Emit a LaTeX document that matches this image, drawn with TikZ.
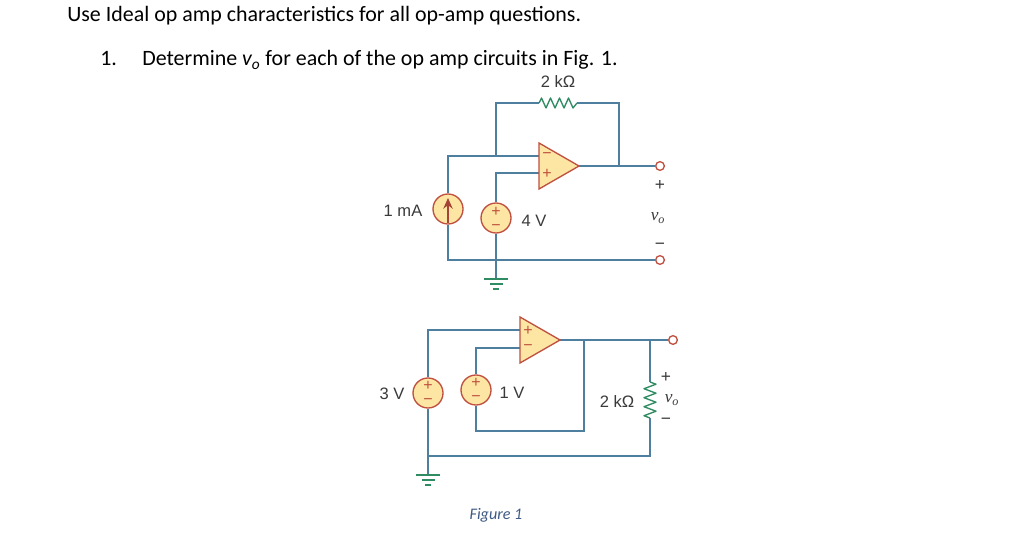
\documentclass[tikz,border=0pt]{standalone}
\usepackage{fontspec}
\setmainfont{Carlito}
\newfontfamily\labelfont{Liberation Sans}
\newfontfamily\symfont{Liberation Serif}
\usetikzlibrary{arrows.meta}
\definecolor{wirecol}{HTML}{4F7F9F}
\definecolor{redcol}{HTML}{C0503F}
\definecolor{fillcol}{HTML}{FDE6A4}
\definecolor{rescol}{HTML}{2E8B62}
\definecolor{txtcol}{HTML}{3A3A3A}
\definecolor{figcol}{HTML}{3F5A85}
\tikzset{
  x=0.75pt,y=-0.75pt,
  wire/.style={draw=wirecol,line width=1.2pt},
  res/.style={draw=rescol,line width=1pt,line join=round},
  gnd/.style={draw=rescol,line width=1pt},
  opamp/.style={draw=redcol,fill=fillcol,line width=1pt,line join=miter},
  src/.style={circle,draw=redcol,fill=fillcol,line width=1pt,minimum size=22.5pt,inner sep=0pt},
  term/.style={circle,draw=redcol,fill=white,line width=1pt,minimum size=6.5pt,inner sep=0pt},
  lab/.style={font=\labelfont\fontsize{12.4}{13}\selectfont,text=txtcol,inner sep=0pt},
  vlab/.style={font=\symfont\itshape\fontsize{13}{13}\selectfont,text=txtcol,inner sep=0pt},
  signmark/.style={font=\labelfont\fontsize{12}{13}\selectfont,text=redcol,inner sep=0pt},
  pol/.style={font=\labelfont\fontsize{13}{13}\selectfont,text=txtcol,inner sep=0pt},
  body/.style={font=\fontsize{16.45}{18}\selectfont,text=black,inner sep=0pt,anchor=base west},
}
\begin{document}
\begin{tikzpicture}
\useasboundingbox (0,0) rectangle (1024,556);
\fill[white] (0,0) rectangle (1024,556);

\node[body] (t1) at (67,22) {Use Ideal op amp characteristics for all op-amp questions.};
\node[body] (t2) at (100,66) {1.};
\node[body] (t3) at (142,66) {Determine \textit{v\textsubscript{o}} for each of the op amp circuits in Fig. 1.};

% --- top circuit
\coordinate (A1) at (539,143);
\coordinate (A2) at (539,189);
\coordinate (A3) at (579,166);
\coordinate (Ain) at (539,156);
\coordinate (Aip) at (539,173);
\coordinate (n1) at (448,156);
\coordinate (n2) at (496,156);
\coordinate (n3) at (496,103);
\coordinate (n4) at (619,103);
\coordinate (n5) at (619,166);
\coordinate (n6) at (496,173);
\coordinate (n7) at (448,260);
\coordinate (n8) at (496,260);
\coordinate (Rta) at (539,103);
\coordinate (Rtb) at (577,103);
\coordinate (Ga) at (496,279);
\node[src] (cs) at (448,209) {};
\node[src] (v4) at (496,218) {};
\node[term] (To1) at (660,166) {};
\node[term] (To2) at (660,260) {};

\draw[wire] (cs.north) -- (n1) -- (Ain);
\draw[wire] (cs.south) -- (n7) -- (To2);
\draw[wire] (n2) -- (n3) -- (Rta);
\draw[wire] (Rtb) -- (n4) -- (n5);
\draw[wire] (A3) -- (To1);
\draw[wire] (v4.north) -- (n6) -- (Aip);
\draw[wire] (v4.south) -- (Ga);
\draw[res] (Rta) -- ++(2.5,-5) -- ++(4.5,10) -- ++(4.5,-10) -- ++(4.5,10) -- ++(4.5,-10) -- ++(4.5,10) -- ++(4.5,-10) -- ++(4.5,10) -- (Rtb);
\draw[opamp] (A1) -- (A3) -- (A2) -- cycle;
\draw[gnd] (484,279) -- (508,279) (490,284) -- (503,284) (493,289) -- (499,289);
\draw[-{Stealth[length=8pt,width=7pt]},draw=redcol!85!black,fill=redcol!85!black,line width=1.6pt] (cs.center)++(0,14) -- ++(0,-25);

\node[signmark] (Am) at (547,156) {−};
\node[signmark] (Ap) at (547,174) {+};
\node[signmark] (v4p) at (496,211.5) {+};
\node[signmark] (v4m) at (496,227.5) {−};
\node[lab] (l1) at (558,82) {2 kΩ};
\node[lab] (l2) at (403,211) {1 mA};
\node[lab] (l3) at (534,221) {4 V};
\node[pol] (p1) at (660,185) {+};
\node[vlab] (vo1) at (658,218) {v\textsubscript{o}};
\node[pol] (m1) at (660,246) {−};

% --- bottom circuit
\coordinate (B1) at (520,317);
\coordinate (B2) at (520,363);
\coordinate (B3) at (560,340);
\coordinate (Bip) at (520,330);
\coordinate (Bin) at (520,348);
\coordinate (q1) at (428,330);
\coordinate (q2) at (476,348);
\coordinate (q3) at (476,431);
\coordinate (q4) at (584,431);
\coordinate (q5) at (584,340);
\coordinate (q6) at (650,340);
\coordinate (q7) at (650,456);
\coordinate (q8) at (428,456);
\coordinate (Rba) at (650,382);
\coordinate (Rbb) at (650,418);
\coordinate (Gb) at (428,475);
\node[src] (v3) at (428,393) {};
\node[src] (v1) at (476,390) {};
\node[term] (To3) at (673,340) {};

\draw[wire] (v3.north) -- (q1) -- (Bip);
\draw[wire] (v1.north) -- (q2) -- (Bin);
\draw[wire] (v1.south) -- (q3) -- (q4) -- (q5);
\draw[wire] (B3) -- (To3);
\draw[wire] (q6) -- (Rba);
\draw[wire] (Rbb) -- (q7) -- (q8);
\draw[wire] (v3.south) -- (Gb);
\draw[res] (Rba) -- ++(6,2.2) -- ++(-12,4.5) -- ++(12,4.5) -- ++(-12,4.5) -- ++(12,4.5) -- ++(-12,4.5) -- ++(12,4.5) -- ++(-12,4.5) -- (Rbb);
\draw[opamp] (B1) -- (B3) -- (B2) -- cycle;
\draw[gnd] (416,475) -- (440,475) (422,480) -- (435,480) (425,485) -- (431,485);

\node[signmark] (Bp) at (528,331) {+};
\node[signmark] (Bm) at (528,348) {−};
\node[signmark] (v3p) at (428,385.5) {+};
\node[signmark] (v3m) at (428,402) {−};
\node[signmark] (v1p) at (476,382.5) {+};
\node[signmark] (v1m) at (476,399) {−};
\node[lab] (l4) at (392,394) {3 V};
\node[lab] (l5) at (512,393) {1 V};
\node[lab] (l6) at (617,402) {2 kΩ};
\node[pol] (p2) at (666,377) {+};
\node[vlab] (vo2) at (672,400) {v\textsubscript{o}};
\node[pol] (m2) at (666,421) {−};
\node[font=\itshape\fontsize{12.1}{13}\selectfont,text=figcol,inner sep=0pt] (fig) at (496,515) {Figure 1};
\end{tikzpicture}
\end{document}
